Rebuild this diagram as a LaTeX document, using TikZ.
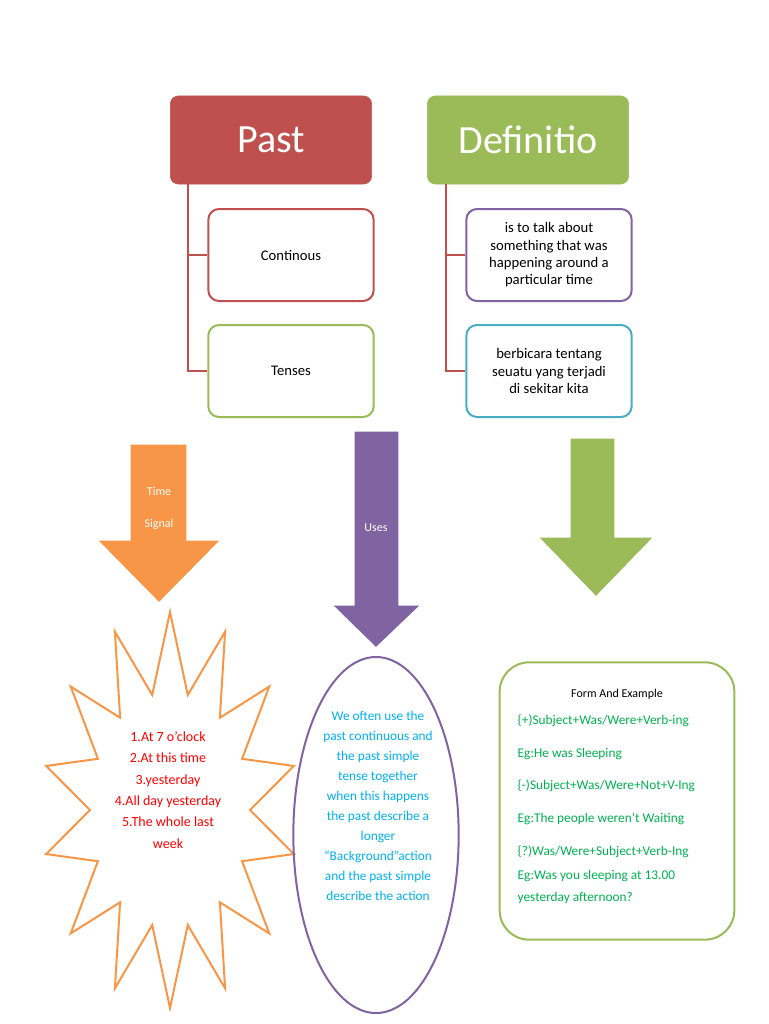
\documentclass[tikz,border=0pt]{standalone}
\usepackage{fontspec}
\setmainfont{Carlito}
\usetikzlibrary{positioning,shapes.geometric}
\definecolor{pastred}{HTML}{C0504D}
\definecolor{defgreen}{HTML}{9BBB59}
\definecolor{boxpurple}{HTML}{8064A2}
\definecolor{boxblue}{HTML}{4BACC6}
\definecolor{arrorange}{HTML}{F79646}
\definecolor{txtblue}{HTML}{00B0F0}
\definecolor{txtgreen}{HTML}{00B050}
\begin{document}
\begin{tikzpicture}[x=0.75pt,y=-0.75pt,
    headbox/.style = {rectangle, rounded corners=6pt, draw=#1, fill=#1,
                      minimum width=151pt, minimum height=66pt, text=white,
                      font=\fontsize{30}{32}\selectfont},
    subbox/.style  = {rectangle, rounded corners=8pt, draw=#1, line width=1.5pt,
                      fill=white, minimum width=124pt, minimum height=69pt,
                      align=center, font=\fontsize{11}{13}\selectfont},
    branch/.style  = {draw=pastred, line width=1pt},
    bigarrow/.style = {fill=#1, draw=white, line width=1pt},
    arrlabel/.style = {text=white, font=\fontsize{9}{11}\selectfont},
]
    \useasboundingbox (0,0) rectangle (768,1024);
    %Nodes
    \node[headbox=pastred]   (past) at (271,140) {Past};
    \node[headbox=defgreen]  (defin) at (528,140) {Definitio};
    \node[subbox=pastred]    (continous) at (291,255) {Continous};
    \node[subbox=defgreen]   (tenses)    at (291,371) {Tenses};
    \node[subbox=boxpurple]  (meaning)   at (549,255) {is to talk about\\something that was\\happening around a\\particular time};
    \node[subbox=boxblue]    (arti)      at (549,371) {berbicara tentang\\seuatu yang terjadi\\di sekitar kita};
    \coordinate (pastfoot) at (188,184);
    \coordinate (deffoot)  at (446,184);

    %Lines
    \draw[branch] (pastfoot) |- (continous.west);
    \draw[branch] (pastfoot) |- (tenses.west);
    \draw[branch] (deffoot) |- (meaning.west);
    \draw[branch] (deffoot) |- (arti.west);

    %Arrows
    \filldraw[bigarrow=arrorange] (130,444) -- (187,444) -- (187,540) -- (221,540)
        -- (159,603) -- (97,540) -- (130,540) -- cycle;
    \filldraw[bigarrow=boxpurple] (354,431) -- (399,431) -- (399,605) -- (421,605)
        -- (376,648) -- (332,605) -- (354,605) -- cycle;
    \filldraw[bigarrow=defgreen] (570,438) -- (615,438) -- (615,537) -- (654,537)
        -- (596,597) -- (538,537) -- (570,537) -- cycle;
    \node[arrlabel] (timelbl) at (159,491) {Time};
    \node[arrlabel] (signallbl) at (159,524) {Signal};
    \node[arrlabel] (useslbl) at (376,528) {Uses};

    %Star
    \draw[arrorange, line width=1.5pt]
        plot[samples at={0,...,27}] ({170+(mod(\x,2)==0?127:80)*cos(\x*360/28-90)},
                                     {810+(mod(\x,2)==0?198:118)*sin(\x*360/28-90)}) -- cycle;
    \node[align=center, text=red, font=\fontsize{10.5}{16}\selectfont] (signals) at (168,790)
        {1.At 7 o'clock\\2.At this time\\3.yesterday\\4.All day yesterday\\5.The whole last\\week};

    %Ellipse
    \node[ellipse, draw=boxpurple, line width=1.5pt, minimum width=124pt,
          minimum height=267pt] (usesell) at (376,835) {};
    \node[align=center, text=txtblue, font=\fontsize{10}{15}\selectfont] (usestxt) at (378,806)
        {We often use the\\past continuous and\\the past simple\\tense together\\when this happens\\the past describe a\\longer\\``Background''action\\and the past simple\\describe the action};

    %Form box
    \node[rectangle, rounded corners=22pt, draw=defgreen, line width=1.5pt,
          minimum width=176pt, minimum height=208pt] (formbox) at (617,801) {};
    \node[font=\fontsize{9}{11}\selectfont] (formtitle) at (617,694) {Form And Example};
    \node[align=left, anchor=north west, text=txtgreen, font=\fontsize{10}{24.5}\selectfont]
        (formtxt) at (513,710)
        {\{+)Subject+Was/Were+Verb-ing\\Eg:He was Sleeping\\\{-)Subject+Was/Were+Not+V-Ing\\Eg:The people weren't Waiting\\\{?)Was/Were+Subject+Verb-Ing\\[-6pt]Eg:Was you sleeping at 13.00\\[-8pt]yesterday afternoon?};
\end{tikzpicture}
\end{document}
